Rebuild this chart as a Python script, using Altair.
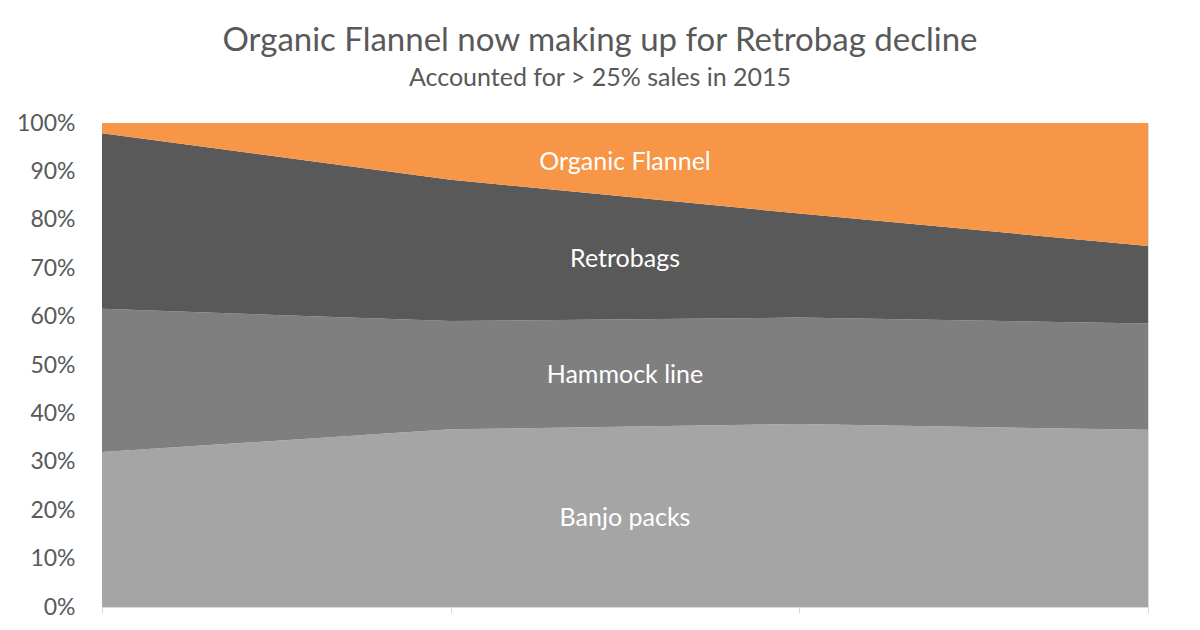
import altair as alt
import pandas as pd

# Data (share of sales, %)
periods = [0, 1, 2, 3]
series = ["Banjo packs", "Hammock line", "Retrobags", "Organic Flannel"]
banjo = [32.0, 36.7, 37.8, 36.6]
hammock = [29.6, 22.4, 22.0, 22.0]
retro = [36.3, 29.2, 21.5, 16.0]
organic = [2.1, 11.7, 18.7, 25.4]
colors = ["#A5A5A5", "#7F7F7F", "#595959", "#F79646"]

# Label positions inside each band
label_x = [1.5, 1.5, 1.5, 1.5]
label_y = [18.4, 47.9, 71.8, 92.0]

rows = []
for i, name in enumerate(series):
    vals = [banjo, hammock, retro, organic][i]
    for p, v in zip(periods, vals):
        rows.append({"period": p, "series": name, "value": v, "order": i})
df = pd.DataFrame(rows)
labels = pd.DataFrame({"series": series, "x": label_x, "y": label_y})

FONT = "Lato"

x_scale = alt.Scale(domain=[0, 3], nice=False, zero=False)
y_scale = alt.Scale(domain=[0, 100], nice=False)

area = alt.Chart(df).mark_area(opacity=1).encode(
    x=alt.X("period:Q", scale=x_scale,
            axis=alt.Axis(title=None, labels=False, values=periods, grid=False,
                          domainColor="#D9D9D9", tickColor="#D9D9D9", tickSize=6,
                          domainWidth=1, tickWidth=1)),
    y=alt.Y("value:Q", stack="zero", scale=y_scale,
            axis=alt.Axis(title=None, values=list(range(0, 101, 10)), grid=False,
                          domain=False, ticks=False,
                          labelExpr="datum.value + '%'", labelFont=FONT,
                          labelFontSize=23, labelColor="#595959", labelPadding=27)),
    color=alt.Color("series:N", scale=alt.Scale(domain=series, range=colors), legend=None),
    order=alt.Order("order:Q"),
)

text = alt.Chart(labels).mark_text(font=FONT, fontSize=25, color="white").encode(
    x=alt.X("x:Q", scale=x_scale),
    y=alt.Y("y:Q", scale=y_scale),
    text="series:N",
)

chart = alt.layer(area, text).properties(
    width=1046,
    height=484,
    padding={"left": 94, "top": 115, "right": 40, "bottom": 14},
    autosize=alt.AutoSizeParams(type="none"),
    title=alt.TitleParams(
        text="Organic Flannel now making up for Retrobag decline",
        subtitle="Accounted for > 25% sales in 2015",
        anchor="middle", dx=-25, offset=21,
        font=FONT, fontSize=33, fontWeight="normal", color="#595959",
        subtitleFont=FONT, subtitleFontSize=25, subtitleColor="#595959",
        subtitlePadding=8,
    ),
).configure_view(stroke=None).configure(background="white")

chart.save("out.html", embed_options={"renderer": "svg", "actions": False})
